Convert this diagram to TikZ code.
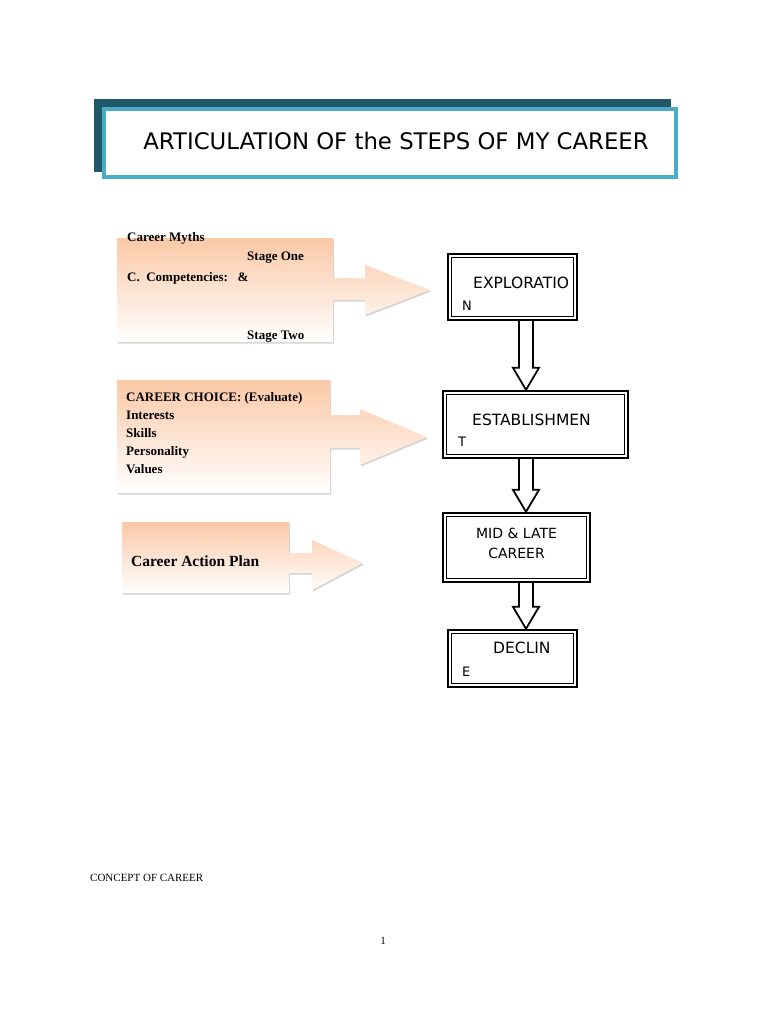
\documentclass[tikz,border=0pt]{standalone}
\usepackage{fontspec}
\setmainfont{Liberation Serif}
\newfontfamily\boxfont{DejaVu Sans}
\usetikzlibrary{calc,shadows}
\definecolor{titledark}{RGB}{32,88,106}
\definecolor{titlelight}{RGB}{75,172,198}
\definecolor{peach}{RGB}{251,200,166}
\tikzset{
  stepbox/.style={draw,line width=2.4pt,inner sep=0pt},
  steptext/.style={font=\boxfont\fontsize{15.5}{18}\selectfont,align=left,anchor=north west,inner sep=0pt},
  callout/.style={top color=peach,bottom color=white,draw=none,drop shadow={opacity=0.35,shadow xshift=1pt,shadow yshift=-1.5pt}},
  lefttext/.style={font=\bfseries\fontsize{13}{16}\selectfont,anchor=north west,inner sep=0pt}
}
\newcommand{\innerframe}[1]{%
  \draw[line width=0.8pt] ([shift={(4.5,4.5)}]#1.north west) rectangle ([shift={(-4.5,-4.5)}]#1.south east);}
\newcommand{\downarrowbox}[2]{%
  \draw[line width=1.8pt,fill=white] let \p1=(#1.south), \p2=(#2.north) in
    (519,\y1) -- (519,\y2+22) -- (513,\y2+22) -- (526,\y2) -- (539,\y2+22)
    -- (533,\y2+22) -- (533,\y1);}
\begin{document}
\begin{tikzpicture}[x=1pt,y=-1pt]
\useasboundingbox (0,0) rectangle (768,1024);

% title banner
\fill[titledark] (94,99) rectangle (671,172);
\draw[titlelight,line width=4pt,fill=white] (104,109) rectangle (676,177);
\node[font=\boxfont\fontsize{22.8}{26}\selectfont] (title) at (396,141) {ARTICULATION OF the STEPS OF MY CAREER};

% left callouts
\path[callout] (117,238) -- (333,238) -- (333,278) -- (365,278) -- (365,265) -- (430,290)
  -- (365,315) -- (365,300) -- (333,300) -- (333,342) -- (117,342) -- cycle;
\path[callout] (117,380) -- (330,380) -- (330,415) -- (360,415) -- (360,409) -- (427,437)
  -- (360,465) -- (360,448) -- (330,448) -- (330,493) -- (117,493) -- cycle;
\path[callout] (122,522) -- (289,522) -- (289,553) -- (312,553) -- (312,540) -- (363,563)
  -- (312,590) -- (312,573) -- (289,573) -- (289,593) -- (122,593) -- cycle;

\node[lefttext] (myths) at (127,232) {Career Myths};
\node[lefttext] (stone) at (247,252) {Stage One};
\node[lefttext] (comp) at (127,272) {C.\ \ Competencies:\ \ \ \&};
\node[lefttext] (sttwo) at (247,331) {Stage Two};
\node[lefttext,align=left,font=\bfseries\fontsize{13}{18}\selectfont] (choice) at (126,392)
  {CAREER CHOICE: (Evaluate)\\Interests\\Skills\\Personality\\Values};
\node[lefttext,font=\bfseries\fontsize{15.5}{18}\selectfont] (plan) at (131,556) {Career Action Plan};

% right steps
\node[stepbox,minimum width=129pt,minimum height=66pt] (explo) at (512.5,287) {};
\node[steptext] (explotxt) at (473,277) {EXPLORATIO};
\node[steptext,font=\boxfont\fontsize{13}{14}\selectfont] (explon) at (462,301) {N};
\node[stepbox,minimum width=185pt,minimum height=67pt] (estab) at (535.5,424.5) {};
\node[steptext] (estabtxt) at (472,414) {ESTABLISHMEN};
\node[steptext,font=\boxfont\fontsize{13}{14}\selectfont] (estabt) at (458,437) {T};
\node[stepbox,minimum width=147pt,minimum height=69pt] (mid) at (516.5,547.5) {};
\node[font=\boxfont\fontsize{14}{20}\selectfont,align=center] (midtxt) at (516.5,543) {MID \& LATE\\CAREER};
\node[stepbox,minimum width=129pt,minimum height=57pt] (decl) at (512.5,658.5) {};
\node[steptext] (decltxt) at (493,642) {DECLIN};
\node[steptext,font=\boxfont\fontsize{13}{14}\selectfont] (decle) at (462,667) {E};
\innerframe{explo}
\innerframe{estab}
\innerframe{mid}
\innerframe{decl}

\downarrowbox{explo}{estab}
\downarrowbox{estab}{mid}
\downarrowbox{mid}{decl}

% footer
\node[anchor=west,font=\fontsize{11}{13}\selectfont,inner sep=0pt] (concept) at (90,878) {CONCEPT OF CAREER};
\node[font=\fontsize{11}{13}\selectfont] (page) at (383,941) {1};
\end{tikzpicture}
\end{document}
